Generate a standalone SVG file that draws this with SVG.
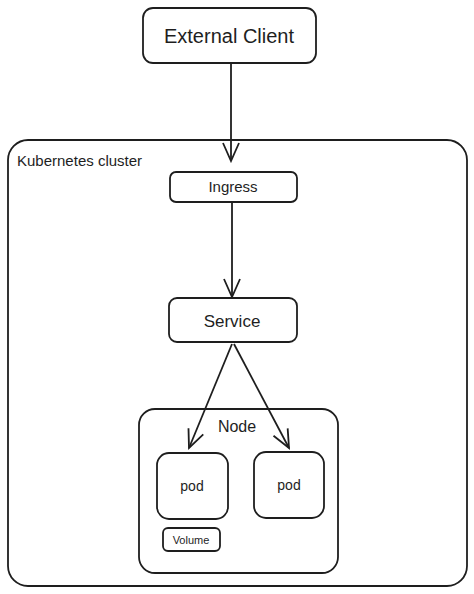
<svg xmlns="http://www.w3.org/2000/svg" width="474" height="594" viewBox="0 0 474 594">
<style>
.box{fill:#fff;stroke:#1e1e1e;stroke-width:1.8}
.frame{fill:none;stroke:#1e1e1e;stroke-width:1.8}
.t{font-family:"Liberation Sans",Arial,sans-serif;fill:#1e1e1e;text-anchor:middle}
.conn{fill:none;stroke:#1e1e1e;stroke-width:1.8;marker-end:url(#arr)}
</style>
<defs>
<marker id="arr" viewBox="0 0 22 22" refX="20" refY="11" markerWidth="22" markerHeight="22" markerUnits="userSpaceOnUse" orient="auto">
<path d="M2,3 L20,11 L2,19" fill="none" stroke="#1e1e1e" stroke-width="1.8"/>
</marker>
</defs>
<rect width="474" height="594" fill="#fff"/>
<g id="cluster">
<rect class="frame" x="8" y="140" width="459" height="446" rx="20"/>
<text class="t" x="17" y="166" font-size="15" style="text-anchor:start">Kubernetes cluster</text>
</g>
<g id="external-client">
<rect class="box" x="143" y="8" width="173" height="55" rx="10"/>
<text class="t" x="229" y="43" font-size="20">External Client</text>
</g>
<g id="ingress">
<rect class="box" x="170" y="172" width="127" height="30" rx="6"/>
<text class="t" x="233" y="192" font-size="15">Ingress</text>
</g>
<g id="service">
<rect class="box" x="169" y="298" width="128" height="44" rx="8"/>
<text class="t" x="232" y="327" font-size="17">Service</text>
</g>
<g id="node">
<rect class="frame" x="139" y="409" width="199" height="164" rx="16"/>
<text class="t" x="237" y="432" font-size="16">Node</text>
</g>
<g id="pod1">
<rect class="box" x="157" y="453" width="71" height="66" rx="12"/>
<text class="t" x="192" y="491" font-size="14">pod</text>
</g>
<g id="pod2">
<rect class="box" x="254" y="452" width="70" height="66" rx="12"/>
<text class="t" x="289" y="490" font-size="14">pod</text>
</g>
<g id="volume">
<rect class="box" x="163" y="528" width="57" height="23" rx="5"/>
<text class="t" x="191" y="544" font-size="11">Volume</text>
</g>
<g id="connectors">
<path class="conn" d="M231,64 L231,161"/>
<path class="conn" d="M232,203 L232,297"/>
<path class="conn" d="M232,344 L189,448"/>
<path class="conn" d="M234,344 L289,448"/>
</g>
</svg>
